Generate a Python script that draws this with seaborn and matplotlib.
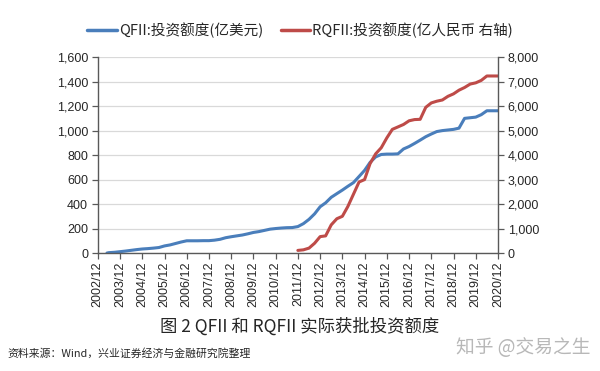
import pandas as pd
import seaborn as sns
import matplotlib.pyplot as plt
import matplotlib.dates as mdates
from matplotlib.lines import Line2D
from matplotlib.ticker import FuncFormatter

# ---- data (quarterly) ----
qfii_dates = ["2003-05", "2003-06", "2003-09", "2003-12", "2004-03", "2004-06", "2004-09", "2004-12",
              "2005-03", "2005-06", "2005-09", "2005-12", "2006-03", "2006-06", "2006-09", "2006-12",
              "2007-03", "2007-06", "2007-09", "2007-12", "2008-03", "2008-06", "2008-09", "2008-12",
              "2009-03", "2009-06", "2009-09", "2009-12", "2010-03", "2010-06", "2010-09", "2010-12",
              "2011-03", "2011-06", "2011-09", "2011-12", "2012-03", "2012-06", "2012-09", "2012-12",
              "2013-03", "2013-06", "2013-09", "2013-12", "2014-03", "2014-06", "2014-09", "2014-12",
              "2015-03", "2015-06", "2015-09", "2015-12", "2016-03", "2016-06", "2016-09", "2016-12",
              "2017-03", "2017-06", "2017-09", "2017-12", "2018-03", "2018-06", "2018-09", "2018-12",
              "2019-03", "2019-06", "2019-09", "2019-12", "2020-03", "2020-06", "2020-09", "2020-12"]
qfii_values = [0, 3, 6, 11, 16, 22, 28, 33,
               36, 40, 45, 58, 66, 78, 90, 100,
               100, 100, 101, 101, 105, 112, 125, 133,
               140, 147, 157, 168, 175, 185, 195, 200,
               204, 207, 208, 216, 240, 275, 320, 378,
               410, 455, 485, 514, 545, 575, 625, 675,
               740, 785, 805, 808, 808, 810, 850, 870,
               895, 922, 950, 972, 992, 1000, 1005, 1010,
               1020, 1100, 1105, 1110, 1130, 1162, 1162, 1162]

rqfii_dates = ["2011-12", "2012-03", "2012-06", "2012-09", "2012-12",
               "2013-03", "2013-06", "2013-09", "2013-12", "2014-03", "2014-06", "2014-09", "2014-12",
               "2015-03", "2015-06", "2015-09", "2015-12", "2016-03", "2016-06", "2016-09", "2016-12",
               "2017-03", "2017-06", "2017-09", "2017-12", "2018-03", "2018-06", "2018-09", "2018-12",
               "2019-03", "2019-06", "2019-09", "2019-12", "2020-03", "2020-06", "2020-09", "2020-12"]
rqfii_values = [107, 130, 200, 400, 670,
                700, 1150, 1400, 1500, 1900, 2400, 2900, 3000,
                3650, 4050, 4300, 4700, 5050, 5150, 5250, 5400,
                5450, 5460, 5950, 6130, 6200, 6250, 6400, 6500,
                6650, 6760, 6900, 6950, 7050, 7230, 7230, 7230]

qfii_label = "QFII:投资额度(亿美元)"
rqfii_label = "RQFII:投资额度(亿人民币 右轴)"
caption = "图 2 QFII 和 RQFII 实际获批投资额度"
source = "资料来源：Wind，兴业证券经济与金融研究院整理"
watermark = "知乎 @交易之生"

blue = "#4A7EBB"
red = "#BE4B48"

df_q = pd.DataFrame({"date": pd.to_datetime(qfii_dates), "value": qfii_values})
df_r = pd.DataFrame({"date": pd.to_datetime(rqfii_dates), "value": rqfii_values})

sns.set_style("white")
plt.rcParams["font.family"] = ["Liberation Sans", "Noto Sans CJK SC", "DejaVu Sans"]
cjk = ["Noto Sans CJK SC", "DejaVu Sans"]

fig = plt.figure(figsize=(6, 3.71), dpi=100)
ax = fig.add_axes([0.163, 0.318, 0.667, 0.528])
ax2 = ax.twinx()

sns.lineplot(data=df_q, x="date", y="value", ax=ax, color=blue, linewidth=2.2)
sns.lineplot(data=df_r, x="date", y="value", ax=ax2, color=red, linewidth=2.2)

ax.set_xlim(pd.Timestamp("2002-12-01"), pd.Timestamp("2020-12-01"))
ax.set_ylim(0, 1600)
ax2.set_ylim(0, 8000)
ax.set_yticks(range(0, 1601, 200))
ax2.set_yticks(range(0, 8001, 1000))
fmt = FuncFormatter(lambda v, p: f"{int(v):,}")
ax.yaxis.set_major_formatter(fmt)
ax2.yaxis.set_major_formatter(fmt)

ax.set_xticks([pd.Timestamp(f"{y}-12-01") for y in range(2002, 2021)])
ax.xaxis.set_major_formatter(mdates.DateFormatter("%Y/%m"))
for lbl in ax.get_xticklabels():
    lbl.set_rotation(90)

ax.set_xlabel("")
ax.set_ylabel("")
ax2.set_ylabel("")

ax.grid(axis="y", color="#d9d9d9", linewidth=0.9)
ax.set_axisbelow(True)

for a in (ax, ax2):
    a.spines["top"].set_visible(False)
    for s in ("left", "right", "bottom"):
        a.spines[s].set_color("#595959")
        a.spines[s].set_linewidth(1.0)
ax.spines["right"].set_visible(False)
ax2.spines["left"].set_visible(False)
ax2.spines["bottom"].set_visible(False)

ax.tick_params(axis="y", direction="out", length=4, width=0.9, color="#595959",
               labelsize=9, pad=3, left=True)
ax.tick_params(axis="x", direction="out", length=4, width=0.9, color="#595959",
               labelsize=9, pad=2, bottom=True)
ax2.tick_params(axis="y", direction="out", length=4, width=0.9, color="#595959",
                labelsize=9, pad=3, right=True)

handles = [Line2D([0], [0], color=blue, linewidth=2.5),
           Line2D([0], [0], color=red, linewidth=2.5)]
fig.legend(handles, [qfii_label, rqfii_label], loc="center", bbox_to_anchor=(0.5, 0.918),
           ncol=2, frameon=False, handlelength=2.0, handletextpad=0.15, columnspacing=1.2,
           prop={"family": cjk, "size": 10.5})

fig.text(0.5, 0.121, caption, ha="center", va="center", fontsize=12.5, family=cjk)
fig.text(0.013, 0.046, source, ha="left", va="center", fontsize=7.8, family=cjk)
fig.text(0.985, 0.063, watermark, ha="right", va="center", fontsize=13.5, family=cjk,
         color="#b8b8b8")

fig.savefig("out.png", dpi=100)
